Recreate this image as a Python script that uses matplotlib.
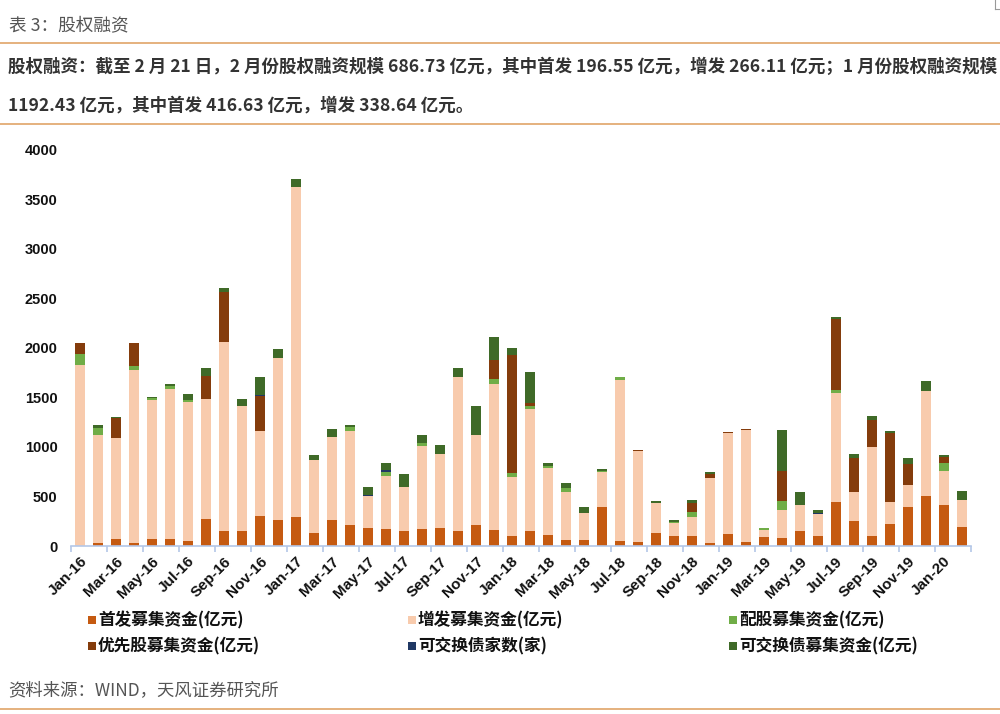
import matplotlib
matplotlib.use("Agg")
import matplotlib.pyplot as plt
from matplotlib.patches import Rectangle
from matplotlib.lines import Line2D
import numpy as np

plt.rcParams['font.family'] = ['Liberation Sans', 'Noto Sans CJK SC', 'DejaVu Sans']

months = ["Jan-16", "Feb-16", "Mar-16", "Apr-16", "May-16", "Jun-16", "Jul-16", "Aug-16",
          "Sep-16", "Oct-16", "Nov-16", "Dec-16", "Jan-17", "Feb-17", "Mar-17", "Apr-17",
          "May-17", "Jun-17", "Jul-17", "Aug-17", "Sep-17", "Oct-17", "Nov-17", "Dec-17",
          "Jan-18", "Feb-18", "Mar-18", "Apr-18", "May-18", "Jun-18", "Jul-18", "Aug-18",
          "Sep-18", "Oct-18", "Nov-18", "Dec-18", "Jan-19", "Feb-19", "Mar-19", "Apr-19",
          "May-19", "Jun-19", "Jul-19", "Aug-19", "Sep-19", "Oct-19", "Nov-19", "Dec-19",
          "Jan-20", "Feb-20"]

ipo = [0, 35, 67, 35, 67, 67, 50, 270, 148, 155, 303, 263,
       293, 131, 259, 209, 182, 172, 148, 172, 185, 155, 215, 162,
       104, 148, 114, 61, 61, 397, 50, 44, 128, 98, 98, 27,
       121, 37, 88, 81, 155, 104, 448, 249, 98, 222, 397, 502,
       416.63, 196.55]

seo = [1825, 1091, 1027, 1747, 1407, 1518, 1408, 1219, 1916, 1259, 862, 1636,
       3337, 734, 842, 949, 327, 535, 448, 838, 744, 1552, 905, 1478,
       596, 1236, 673, 482, 276, 354, 1627, 912, 310, 131, 195, 657,
       1017, 1131, 74, 286, 256, 222, 1097, 293, 902, 222, 222, 1064,
       338.64, 266.11]

rights = [117, 70, 0, 40, 20, 33, 17, 0, 0, 0, 0, 0,
          0, 0, 0, 44, 0, 44, 0, 30, 0, 0, 0, 44,
          40, 34, 20, 44, 0, 10, 27, 0, 0, 13, 47, 0,
          0, 0, 24, 87, 0, 0, 27, 0, 0, 0, 0, 0,
          81, 0]

pref = [111, 0, 198, 229, 0, 0, 0, 232, 502, 0, 350, 0,
        0, 0, 0, 0, 0, 0, 0, 0, 0, 0, 0, 199,
        1185, 27, 0, 0, 0, 0, 0, 10, 0, 0, 98, 40,
        10, 10, 0, 300, 0, 0, 717, 350, 269, 694, 205, 0,
        64, 0]

eb_count = [0, 0, 0, 0, 0, 0, 0, 0, 0, 0, 12, 0,
            0, 0, 0, 0, 8, 12, 0, 0, 0, 0, 0, 0,
            0, 0, 0, 0, 0, 0, 0, 0, 0, 0, 0, 0,
            0, 0, 0, 0, 0, 10, 0, 0, 0, 0, 0, 0,
            0, 0]

eb = [0, 23, 13, 0, 10, 20, 64, 74, 37, 74, 178, 94,
      81, 54, 81, 17, 77, 77, 128, 81, 94, 88, 290, 232,
      77, 313, 27, 50, 54, 17, 0, 0, 17, 17, 24, 20,
      0, 0, 0, 417, 138, 27, 20, 34, 44, 27, 61, 98,
      17, 88]

series_names = ["首发募集资金(亿元)", "增发募集资金(亿元)", "配股募集资金(亿元)",
                "优先股募集资金(亿元)", "可交换债家数(家)", "可交换债募集资金(亿元)"]
series_data = [ipo, seo, rights, pref, eb_count, eb]
colors = ["#C55A11", "#F8CBAD", "#70AD47", "#843C0C", "#203864", "#3F6A28"]

title_text = "表 3：股权融资"
desc_line1 = "股权融资：截至 2 月 21 日，2 月份股权融资规模 686.73 亿元，其中首发 196.55 亿元，增发 266.11 亿元；1 月份股权融资规模"
desc_line2 = "1192.43 亿元，其中首发 416.63 亿元，增发 338.64 亿元。"
source_text = "资料来源：WIND，天风证券研究所"

W, H = 1000, 714
fig = plt.figure(figsize=(W / 100, H / 100), dpi=100)

def fx(px):
    return px / W

def fy(py):
    return 1 - py / H

cjk = ['Noto Sans CJK SC', 'DejaVu Sans']
line_color = "#E0A468"

# header
fig.text(fx(9), fy(25), title_text, fontsize=12.7, color="#555555", family=cjk, va='center', ha='left')
fig.add_artist(Line2D([0, 1], [fy(43), fy(43)], color=line_color, lw=1.2, transform=fig.transFigure))
t1 = fig.text(fx(8), fy(67), desc_line1, fontsize=12, fontweight='bold', color="#333333",
              family=cjk, va='center', ha='left')
t2 = fig.text(fx(8), fy(105), desc_line2, fontsize=12, fontweight='bold', color="#333333",
              family=cjk, va='center', ha='left')
fig.add_artist(Line2D([0, 1], [fy(124), fy(124)], color=line_color, lw=1.2, transform=fig.transFigure))
fig.add_artist(Line2D([fx(995), fx(995)], [fy(0), fy(9)], color="#999999", lw=0.8, transform=fig.transFigure))
fig.add_artist(Line2D([fx(995), fx(1000)], [fy(9), fy(9)], color="#999999", lw=0.8, transform=fig.transFigure))

# fit line 1 width
fig.canvas.draw()
r = fig.canvas.get_renderer()
w = t1.get_window_extent(r).width
fs = 12 * 987.0 / w
t1.set_fontsize(fs)
t2.set_fontsize(fs)

# axes
ax_left, ax_right = 70.7, 970.7
ax_bottom, ax_top = 546, 150
ax = fig.add_axes([fx(ax_left), fy(ax_bottom), fx(ax_right - ax_left), (ax_bottom - ax_top) / H])
x = np.arange(len(months))
bottom = np.zeros(len(months))
for vals, c in zip(series_data, colors):
    v = np.array(vals, dtype=float)
    ax.bar(x, v, bottom=bottom, width=0.56, color=c, linewidth=0)
    bottom += v

ax.set_xlim(-0.5, len(months) - 0.5)
ax.set_ylim(0, 4000)
ax.set_yticks(np.arange(0, 4001, 500))
for s in ['top', 'right', 'left']:
    ax.spines[s].set_visible(False)
ax.spines['bottom'].set_color("#B4C7E7")
ax.spines['bottom'].set_linewidth(1.2)
ax.tick_params(axis='y', length=0, pad=9.5, labelsize=10.5)
for lab in ax.get_yticklabels():
    lab.set_fontweight('bold')
    lab.set_color("#111111")

ax.set_xticks(x[::2])
ax.set_xticklabels(months[::2], rotation=45, ha='right', rotation_mode='anchor',
                   fontsize=11, fontweight='bold', color="#111111")
ax.tick_params(axis='x', which='major', length=0, pad=6)
ax.set_xticks(np.arange(-0.5, len(months), 2), minor=True)
ax.tick_params(axis='x', which='minor', length=4, color="#B4C7E7", width=1.2)

# legend (manual)
leg_pos = [(92, 620), (412, 620), (733, 620), (92, 646), (412, 646), (733, 646)]
for (px, py), name, c in zip(leg_pos, series_names, colors):
    fig.add_artist(Rectangle((fx(px - 4), fy(py + 4)), 8 / W, 8 / H, color=c,
                             transform=fig.transFigure, linewidth=0))
    fig.text(fx(px + 6), fy(py), name, fontsize=12, fontweight='bold', color="#111111",
             family=cjk, va='center', ha='left')

# source
fig.text(fx(8), fy(690), source_text, fontsize=12.5, color="#555555", family=cjk, va='center', ha='left')
fig.add_artist(Line2D([0, 1], [fy(709), fy(709)], color=line_color, lw=1.2, transform=fig.transFigure))

fig.savefig("out.png", dpi=100)
